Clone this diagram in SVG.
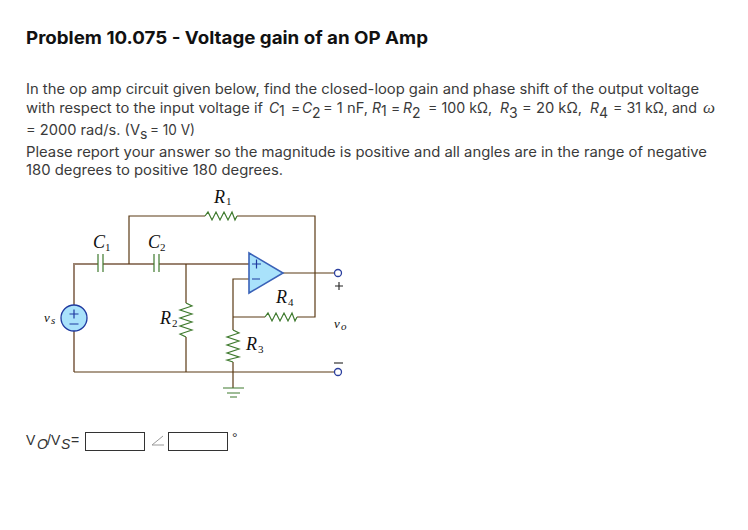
<svg xmlns="http://www.w3.org/2000/svg" width="748" height="530" viewBox="0 0 748 530">
<style>
text{font-family:"Inter","Noto Sans",sans-serif;font-size:14px;fill:#3a3a3a}
.t{font-weight:700;font-size:17.5px;fill:#111}
.i{font-style:italic}
.a{font-family:"Liberation Sans",sans-serif;fill:#333}
.m{font-family:"Liberation Serif",serif;font-style:italic;font-size:18px;fill:#111}
.ms{font-family:"Liberation Serif",serif;font-size:11px;fill:#111}
.w{fill:none;stroke:#5b3a14;stroke-width:1.2}
.wt{fill:none;stroke:#9a8270;stroke-width:2}
.g{fill:none;stroke:#3f7a2e;stroke-width:1.2}
.term{fill:#fff;stroke:#2b3f9e;stroke-width:1.3}
.box{fill:#fff;stroke:#333;stroke-width:1}
.b{stroke:#1f3aa0;stroke-width:1.2;fill:none}
</style>
<rect width="748" height="530" fill="#fff"/>
<g id="heading"><text class="t" x="26" y="44" textLength="402" lengthAdjust="spacingAndGlyphs">Problem 10.075 - Voltage gain of an OP Amp</text></g>
<g id="body">
<text x="26" y="94" textLength="673" lengthAdjust="spacingAndGlyphs">In the op amp circuit given below, find the closed-loop gain and phase shift of the output voltage</text>
<text x="26" y="113" textLength="237" lengthAdjust="spacingAndGlyphs">with respect to the input voltage if</text>
<text class="i" x="269" y="113">C</text><text x="279" y="116" font-size="13">1</text><text x="291" y="113">=</text>
<text class="i" x="302" y="113">C</text><text x="312" y="118">2</text><text x="323" y="113" textLength="45" lengthAdjust="spacingAndGlyphs">= 1 nF,</text>
<text class="i" x="372" y="113">R</text><text x="381" y="116" font-size="13">1</text><text x="391" y="113">=</text>
<text class="i" x="403" y="113">R</text><text x="412" y="118">2</text><text x="428" y="113" textLength="64" lengthAdjust="spacingAndGlyphs">= 100 kΩ,</text>
<text class="i" x="500" y="113">R</text><text x="509" y="118">3</text><text x="522" y="113" textLength="60" lengthAdjust="spacingAndGlyphs">= 20 kΩ,</text>
<text class="i" x="590" y="113">R</text><text x="599" y="118">4</text><text x="613" y="113" textLength="84" lengthAdjust="spacingAndGlyphs">= 31 kΩ, and</text>
<text class="i" x="703" y="113" style="font-family:'Liberation Serif',serif;font-size:17px">ω</text>
<text x="26" y="135" textLength="114" lengthAdjust="spacingAndGlyphs">= 2000 rad/s. (V</text><text x="140" y="139" font-size="13">s</text><text x="150" y="135" textLength="45" lengthAdjust="spacingAndGlyphs">= 10 V)</text>
<text x="26" y="157" textLength="681" lengthAdjust="spacingAndGlyphs">Please report your answer so the magnitude is positive and all angles are in the range of negative</text>
<text x="26" y="175" textLength="257" lengthAdjust="spacingAndGlyphs">180 degrees to positive 180 degrees.</text>
</g>
<g id="connectors">
<path class="wt" d="M74 305V264H98M103 264H154M159 264H249M74 331V372"/>
<path class="w" d="M129 264V216H205M237 216H315V317H297M265 317H233M249 279H233V330M233 362V388M74 372H334M186 264V303M186 337V372M283 273H334"/>
</g>
<g id="C1"><path class="g" d="M98 254V272M103 254V272"/><text class="m" x="93" y="248">C</text><text class="ms" x="105" y="251">1</text></g>
<g id="C2"><path class="g" d="M154 254V272M159 254V272"/><text class="m" x="148" y="248">C</text><text class="ms" x="160" y="251">2</text></g>
<g id="R1"><path class="g" d="M205 216L208 212L212 220L216 212L220 220L224 212L228 220L232 212L235 220L237 216"/><text class="m" x="214" y="203">R</text><text class="ms" x="226" y="205">1</text></g>
<g id="R2"><path class="g" d="M186 303L192 306L180 310L192 314L180 318L192 322L180 326L192 330L180 334L186 337"/><text class="m" x="160" y="324">R</text><text class="ms" x="172" y="327">2</text></g>
<g id="R3"><path class="g" d="M233 330L239 333L227 337L239 341L227 345L239 349L227 353L239 357L227 360L233 362"/><text class="m" x="246" y="350">R</text><text class="ms" x="258" y="353">3</text></g>
<g id="R4"><path class="g" d="M265 317L268 313L272 321L276 313L280 321L284 313L288 321L292 313L295 321L297 317"/><text class="m" x="276" y="303">R</text><text class="ms" x="288" y="306">4</text></g>
<g id="source"><circle cx="74" cy="318" r="13" fill="#a9e2fb" stroke="#1f3aa0" stroke-width="1.3"/><path class="b" d="M69.500 314H78.500M74 309.500V318.500M69.500 324H78.500"/><text class="m" x="44" y="322" font-size="13" style="font-size:13px">v</text><text class="ms" x="51" y="324" font-style="italic">s</text></g>
<g id="opamp"><path d="M249 253L283 273L249 293Z" fill="#a9e2fb" stroke="#3a62b8" stroke-width="1.600"/><path class="b" d="M252 264H261M256.500 259.500V268.500M252 279H260"/></g>
<g id="ground"><path class="g" d="M223 388H244M227 393H240M230 397H237"/></g>
<g id="output"><circle class="term" cx="338" cy="273" r="3.500"/><circle class="term" cx="338" cy="372" r="3.500"/><path d="M335 286H343M339 282V290" stroke="#222" stroke-width="1.100"/><path d="M334 363H343" stroke="#222" stroke-width="1.100"/><text class="m" x="334" y="328" style="font-size:13px">v</text><text class="ms" x="341" y="330" font-style="italic">o</text></g>
<g id="answer"><text class="a" x="26" y="445" font-size="16">V</text><text class="a i" x="37" y="449" font-size="13">O</text><text class="a" x="47" y="445" font-size="16">/V</text><text class="a i" x="61" y="449" font-size="13">S</text><text class="a" x="71" y="445" font-size="14">=</text>
<rect class="box" x="85.500" y="432.500" width="59" height="18"/><path d="M152 445L163 436M152 445H164" fill="none" stroke="#999" stroke-width="1"/><rect class="box" x="168.500" y="432.500" width="59" height="18"/><text class="a" x="232" y="443" font-size="12">°</text></g>
</svg>
